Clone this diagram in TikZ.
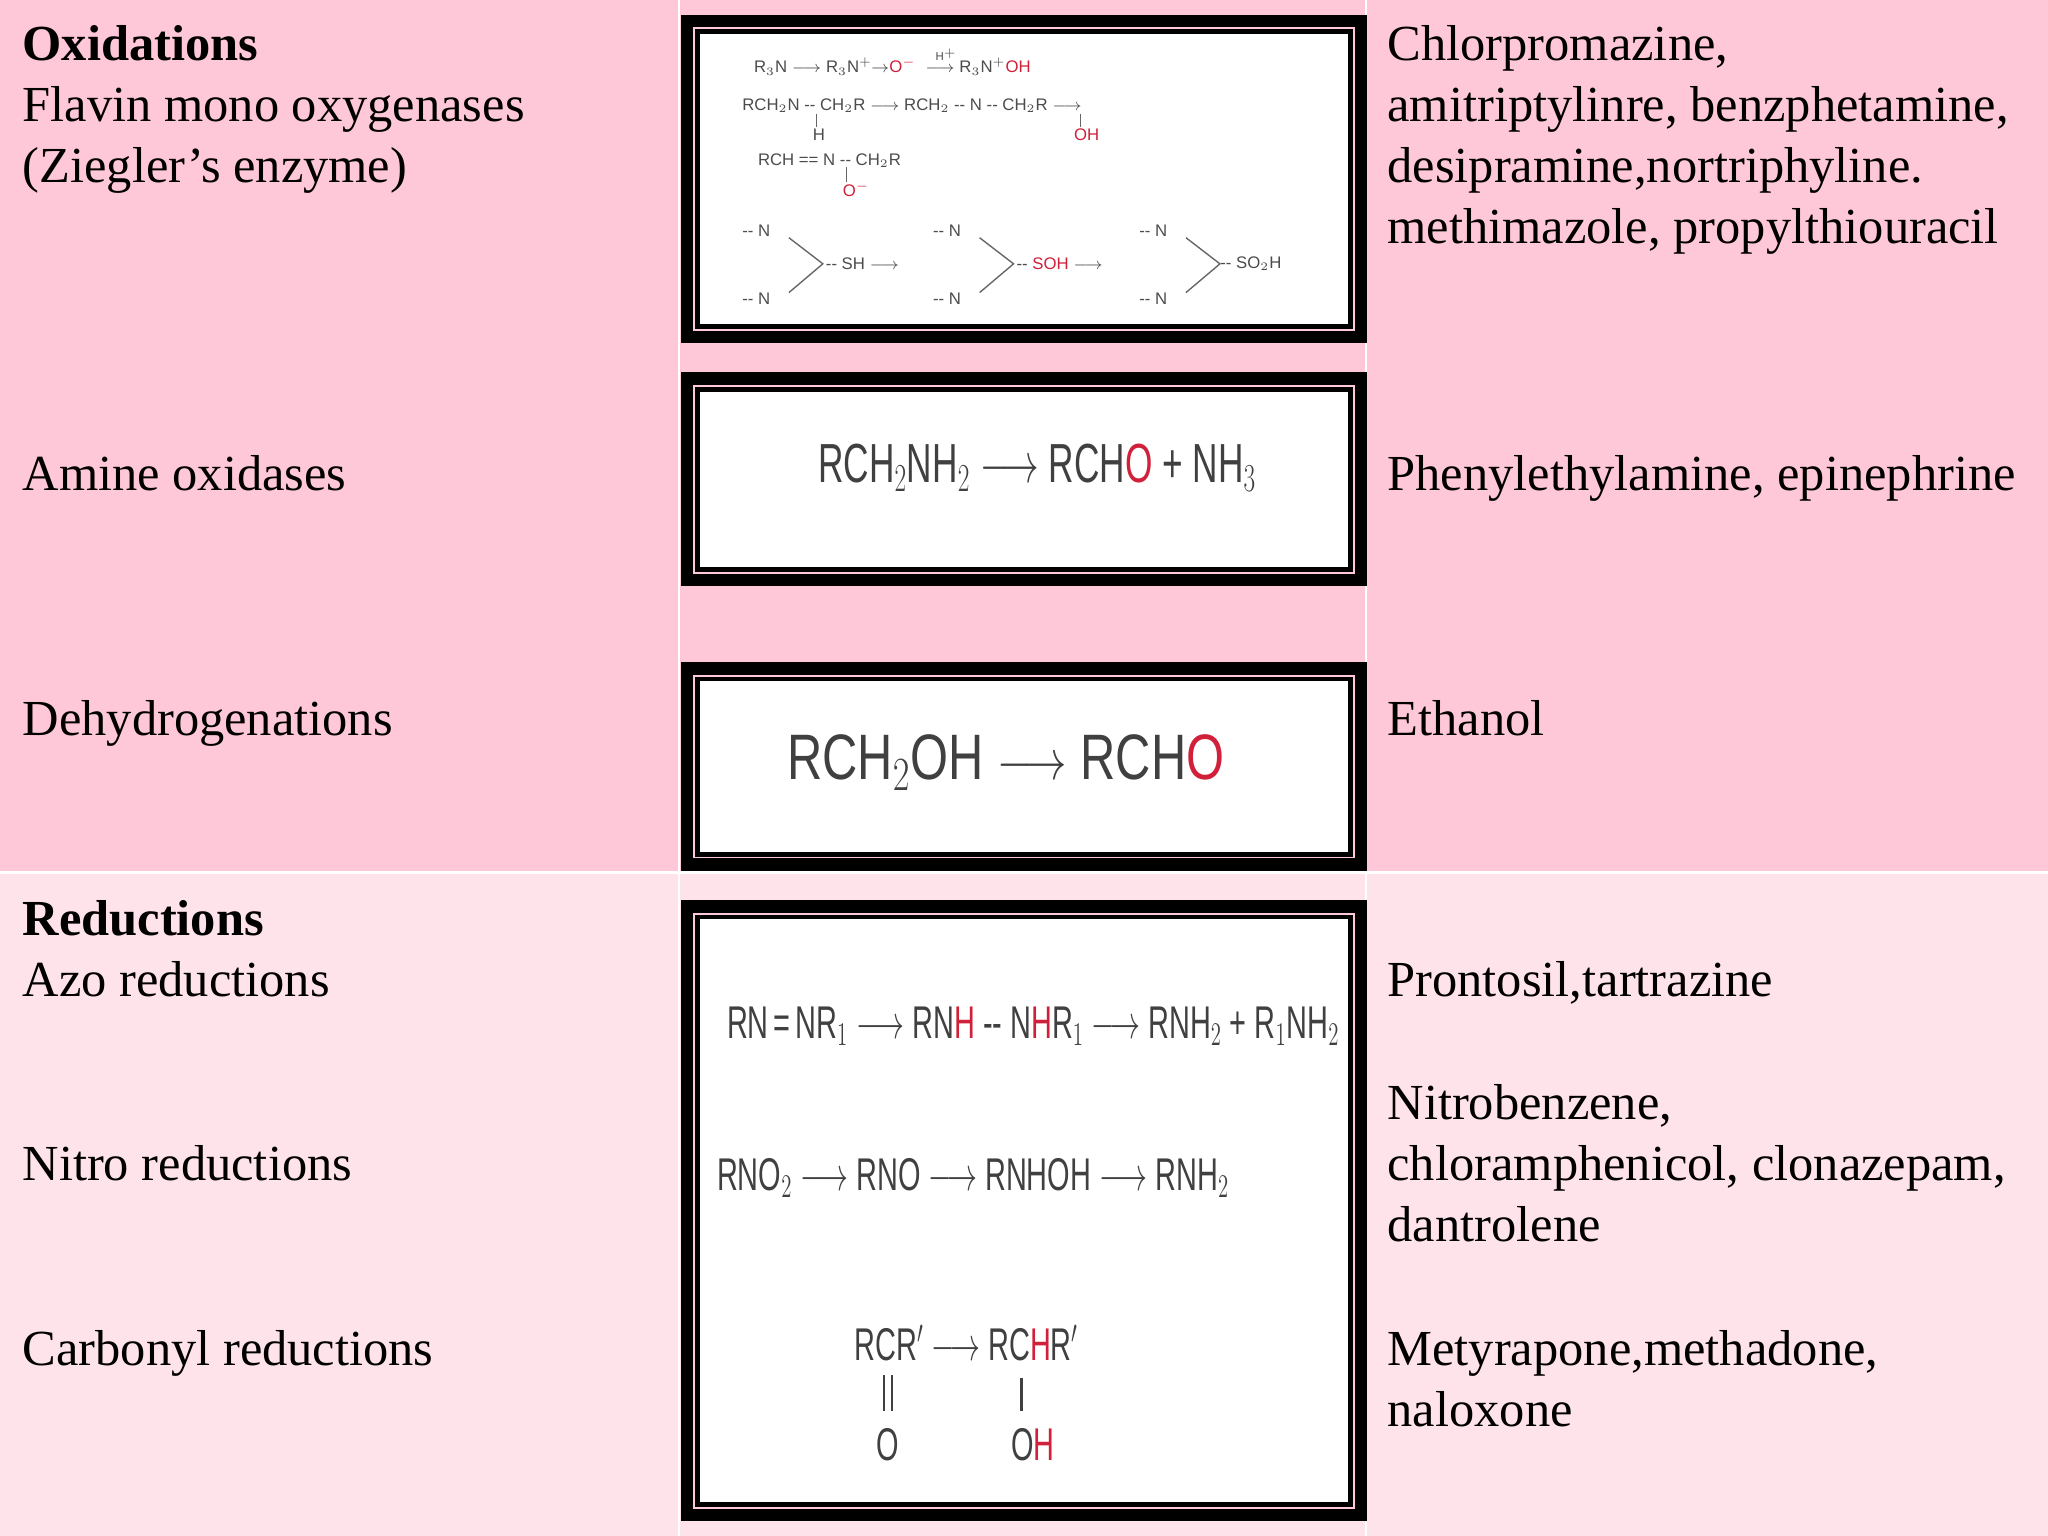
\documentclass[tikz,border=0pt]{standalone}
\usepackage{amsmath}
\usepackage{graphicx}
\usepackage{fontspec}
\setmainfont{Liberation Serif}
\newfontfamily\chem{Liberation Sans}
\definecolor{pinkA}{HTML}{FFC8D8}
\definecolor{pinkB}{HTML}{FFE3EB}
\definecolor{redO}{HTML}{D0203A}
\newcommand{\nar}[2][0.72]{\scalebox{#1}[1]{#2}}
\begin{document}
\begin{tikzpicture}[x=0.02cm,y=-0.02cm,
  lbl/.style={anchor=north west,inner sep=0pt,font=\fontsize{22}{26.6}\selectfont,align=left},
  frame/.style={draw=black,line width=5.5pt,fill=pinkA},
  inner/.style={draw=black,line width=2pt,fill=white},
  eq/.style={font=\chem\fontsize{20}{24}\selectfont,text=black!75,inner sep=0pt},
  small/.style={font=\chem\fontsize{7.3}{8}\selectfont,text=black!70,inner sep=0pt,anchor=west}]
\useasboundingbox (0,0) rectangle (1568,1176);
\fill[pinkA] (0,0) rectangle (1568,668);
\fill[pinkB] (0,668) rectangle (1568,1176);
\draw[white,line width=1pt] (520,0)--(520,1176) (1046,0)--(1046,1176) (0,668)--(1568,668);
% boxes
\foreach \a/\b/\n in {12/262/b1,286/448/b2,508/666/b3,690/1164/b4}{
  \draw[frame] (526,\a+4) rectangle (1042,\b-4);
  \draw[inner] (534,\a+12) rectangle (1034,\b-12);
}
% left labels
\node[lbl] (l1) at (17,19) {\textbf{Oxidations}\\Flavin mono oxygenases\\(Ziegler’s enzyme)};
\node[lbl] (l2) at (17,348) {Amine oxidases};
\node[lbl] (l3) at (17,536) {Dehydrogenations};
\node[lbl] (l4) at (17,689) {\textbf{Reductions}\\Azo reductions};
\node[lbl] (l5) at (17,877) {Nitro reductions};
\node[lbl] (l6) at (17,1018) {Carbonyl reductions};
% right labels
\node[lbl] (r1) at (1062,19) {Chlorpromazine,\\amitriptylinre, benzphetamine,\\desipramine,nortriphyline.\\methimazole, propylthiouracil};
\node[lbl] (r2) at (1062,348) {Phenylethylamine, epinephrine};
\node[lbl] (r3) at (1062,536) {Ethanol};
\node[lbl] (r4) at (1062,736) {Prontosil,tartrazine};
\node[lbl] (r5) at (1062,830) {Nitrobenzene,\\chloramphenicol, clonazepam,\\dantrolene};
\node[lbl] (r6) at (1062,1018) {Metyrapone,methadone,\\naloxone};
% box1 small chemistry
\node[small] (c1) at (577,51) {R$_3$N $\longrightarrow$ R$_3$N$^+\!\!\to$\textcolor{redO}{O$^-$} \ $\longrightarrow$ R$_3$N$^+$\textcolor{redO}{OH}};
\node[small,font=\chem\fontsize{5}{6}\selectfont] (c1h) at (716,42) {H$^+$};
\node[small] (c2) at (568,81) {RCH$_2$N -- CH$_2$R $\longrightarrow$ RCH$_2$ -- N -- CH$_2$R $\longrightarrow$};
\node[small] (c2a) at (622,103) {H};
\node[small] (c2b) at (822,103) {\textcolor{redO}{OH}};
\node[small] (c3) at (580,123) {RCH == N -- CH$_2$R};
\node[small] (c3a) at (645,145) {\textcolor{redO}{O$^-$}};
\node[small] (s1) at (568,177) {-- N};
\node[small] (s1b) at (568,229) {-- N};
\node[small] (s1c) at (632,202) {-- SH $\longrightarrow$};
\node[small] (s2) at (714,177) {-- N};
\node[small] (s2b) at (714,229) {-- N};
\node[small] (s2c) at (778,202) {-- \textcolor{redO}{SOH} $\longrightarrow$};
\node[small] (s3) at (872,177) {-- N};
\node[small] (s3b) at (872,229) {-- N};
\node[small] (s3c) at (934,202) {-- SO$_2$H};
\draw[black!60,line width=0.6pt] (604,182)--(630,202)--(604,224) (750,182)--(776,202)--(750,224) (908,182)--(934,202)--(908,224);
\draw[black!60] (625,87)--(625,97) (827,87)--(827,97) (648,128)--(648,139);
% box2
\node[eq,font=\chem\fontsize{24}{28}\selectfont] (e2) at (794,358) {\nar[0.64]{RCH$_2$NH$_2$ $\longrightarrow$ RCH\textcolor{redO}{O} + NH$_3$}};
% box3
\node[eq,font=\chem\fontsize{28}{32}\selectfont] (e3) at (770,584) {\nar[0.76]{RCH$_2$OH $\longrightarrow$ RCH\textcolor{redO}{O}}};
% box4
\node[eq] (e4) at (791,786) {\nar[0.63]{RN\,=\,NR$_1$ $\longrightarrow$ RN\textcolor{redO}{H} -- N\textcolor{redO}{H}R$_1$ $\longrightarrow$ RNH$_2$ + R$_1$NH$_2$}};
\node[eq] (e5) at (745,902) {\nar[0.63]{RNO$_2$ $\longrightarrow$ RNO $\longrightarrow$ RNHOH $\longrightarrow$ RNH$_2$}};
\node[eq] (e6) at (740,1028) {\nar[0.63]{RCR$'$ $\longrightarrow$ RC\textcolor{redO}{H}R$'$}};
\node[eq] (e6a) at (680,1106) {\nar[0.63]{O}};
\node[eq] (e6b) at (791,1106) {\nar[0.63]{O\textcolor{redO}{H}}};
\draw[black!75,line width=1pt] (677,1053)--(677,1080) (683,1053)--(683,1080) (782,1055)--(782,1080);
\end{tikzpicture}
\end{document}
